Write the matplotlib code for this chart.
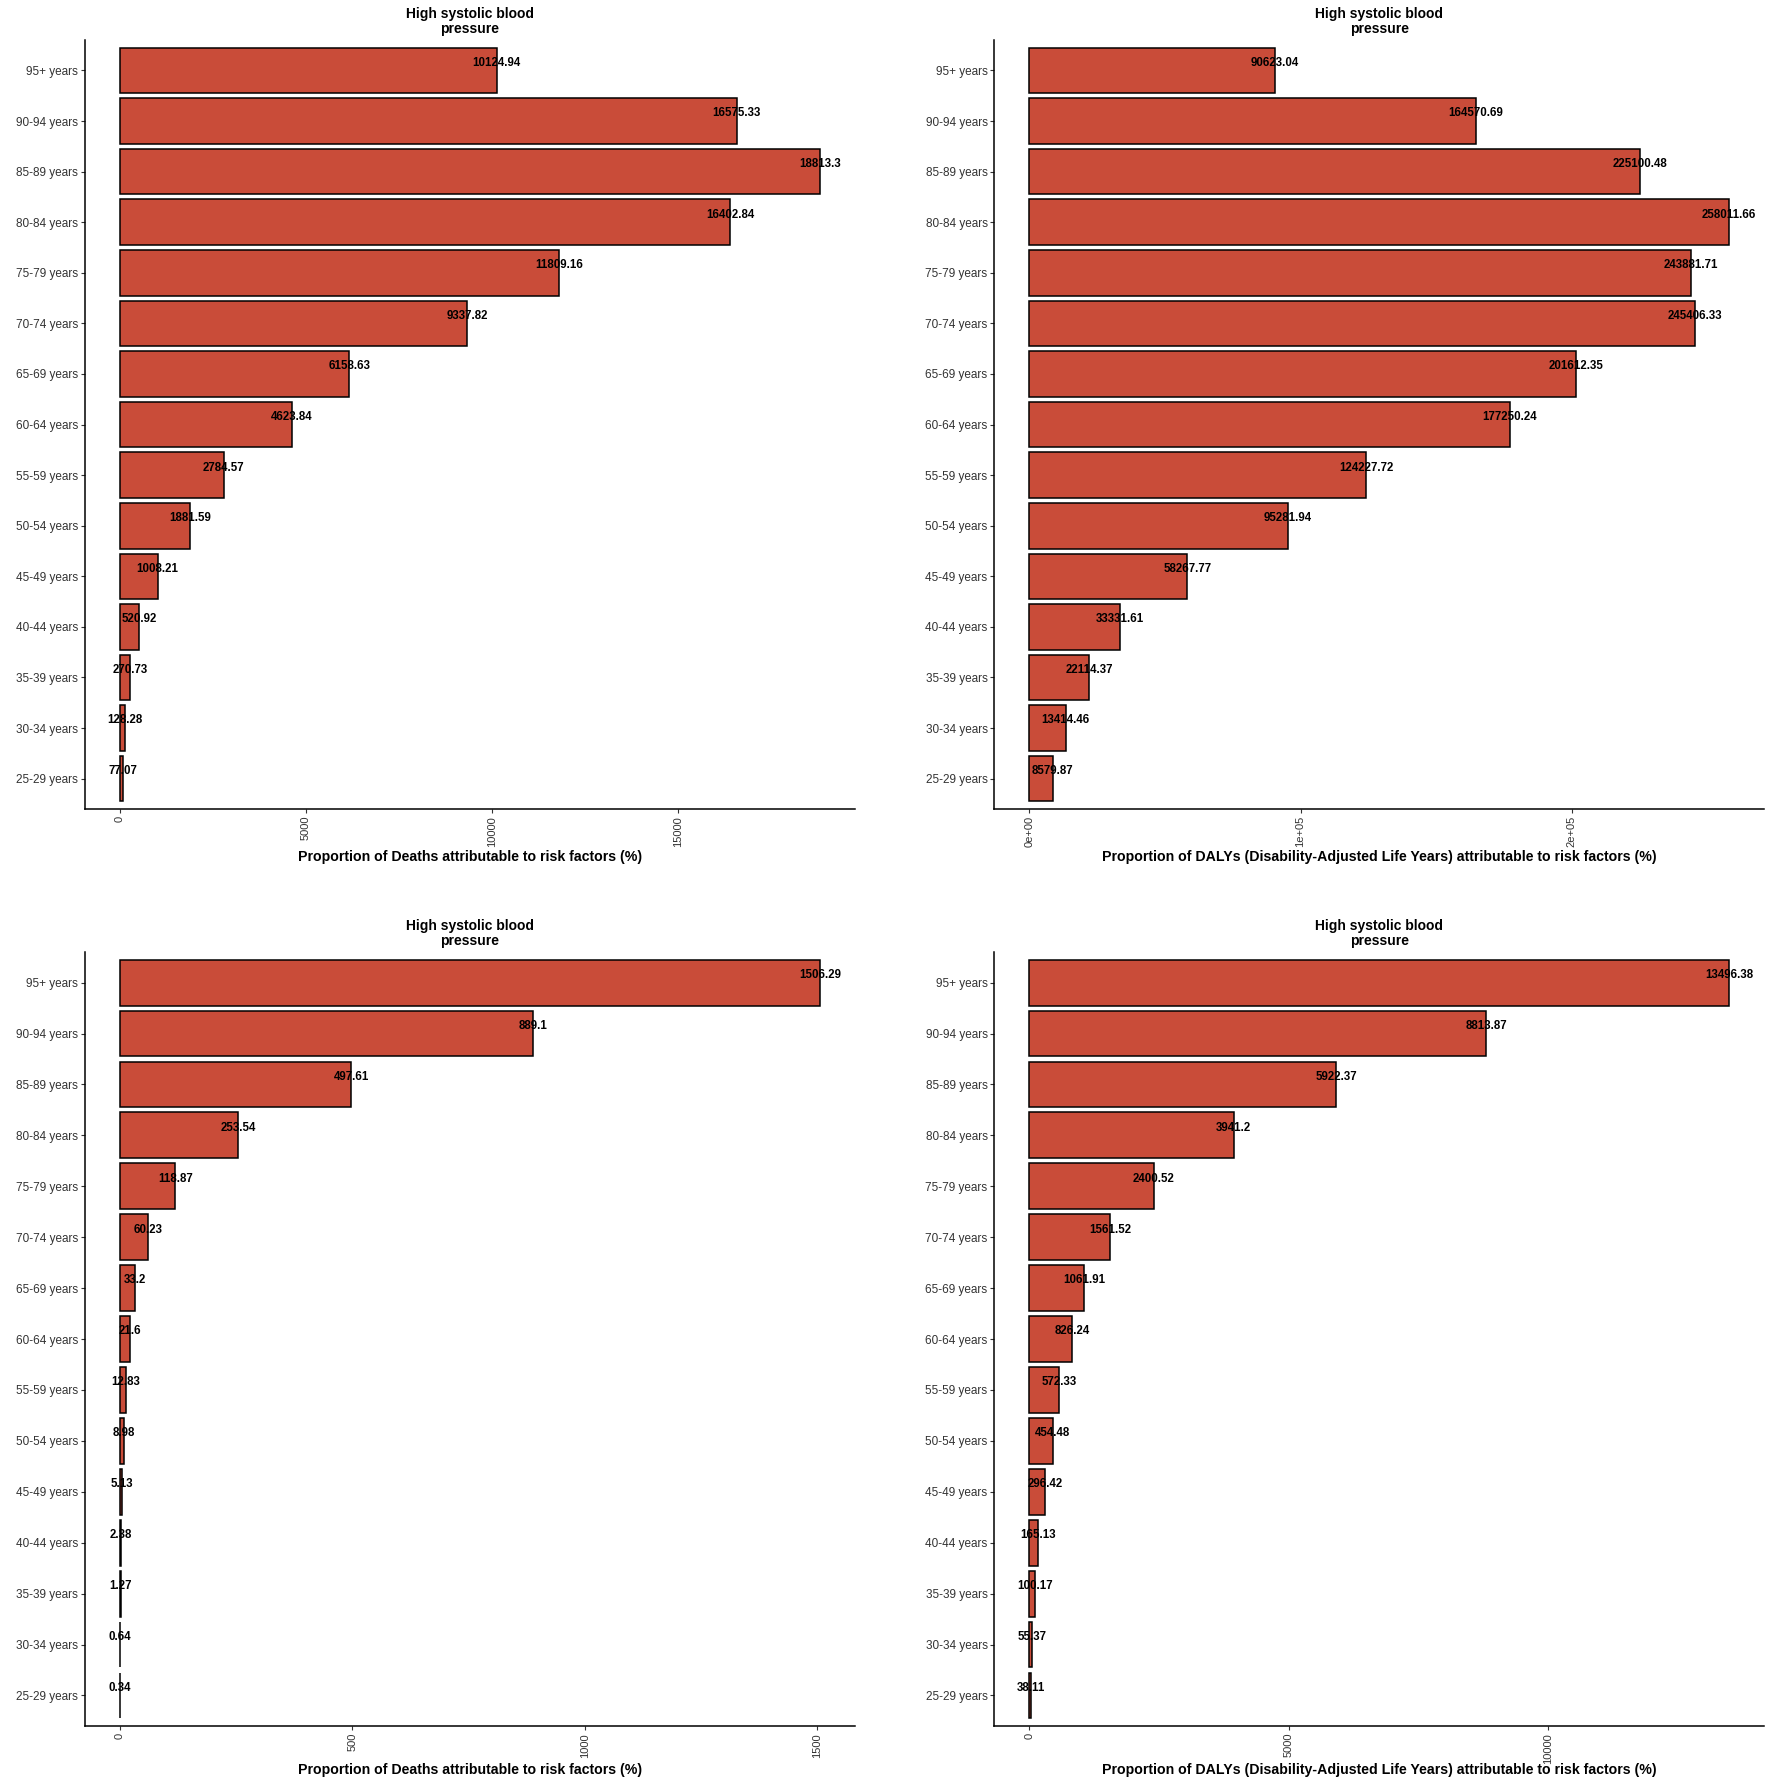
import matplotlib
matplotlib.use("Agg")
import matplotlib.pyplot as plt

plt.rcParams['font.family'] = ['Liberation Sans', 'DejaVu Sans']

# age groups, top to bottom
ages = ["95+ years", "90-94 years", "85-89 years", "80-84 years", "75-79 years",
        "70-74 years", "65-69 years", "60-64 years", "55-59 years", "50-54 years",
        "45-49 years", "40-44 years", "35-39 years", "30-34 years", "25-29 years"]

deaths_num = [10124.94, 16575.33, 18813.3, 16402.84, 11809.16, 9337.82, 6158.63,
              4623.84, 2784.57, 1881.59, 1008.21, 520.92, 270.73, 128.28, 77.07]
dalys_num = [90623.04, 164570.69, 225100.48, 258011.66, 243881.71, 245406.33,
             201612.35, 177250.24, 124227.72, 95281.94, 58267.77, 33331.61,
             22114.37, 13414.46, 8579.87]
deaths_rate = [1506.29, 889.1, 497.61, 253.54, 118.87, 60.23, 33.2, 21.6, 12.83,
               8.98, 5.13, 2.38, 1.27, 0.64, 0.34]
dalys_rate = [13496.38, 8813.87, 5922.37, 3941.2, 2400.52, 1561.52, 1061.91,
              826.24, 572.33, 454.48, 296.42, 165.13, 100.17, 55.37, 38.11]

ticks_deaths_num = [0, 5000, 10000, 15000]
ticks_dalys_num = [0, 100000, 200000]
labels_dalys_num = ["0e+00", "1e+05", "2e+05"]
ticks_deaths_rate = [0, 500, 1000, 1500]
ticks_dalys_rate = [0, 5000, 10000]

title = "High systolic blood\npressure"
xlab_deaths = "Proportion of Deaths attributable to risk factors (%)"
xlab_dalys = "Proportion of DALYs (Disability-Adjusted Life Years) attributable to risk factors (%)"

bar_color = "#C94C39"

fig = plt.figure(figsize=(17.72, 17.82), dpi=100)

def panel(rect, values, ticks, ticklabels, xlabel, label_y):
    ax = fig.add_axes(rect)
    n = len(ages)
    ypos = list(range(n - 1, -1, -1))
    ax.barh(ypos, values, height=0.9, color=bar_color, edgecolor="black", linewidth=1.1)
    for y, v in zip(ypos, values):
        ax.annotate(str(v), (v, y), xytext=(0, 5.5), textcoords="offset points",
                    ha="center", va="center", fontsize=8.3, fontweight="bold", color="black")
    vmax = max(values)
    ax.set_xlim(-0.05 * vmax, 1.05 * vmax)
    ax.set_ylim(-0.6, n - 0.4)
    ax.set_yticks(ypos)
    ax.set_yticklabels(ages, fontsize=8.5, color="#333333")
    ax.set_xticks(ticks)
    ax.set_xticklabels(ticklabels if ticklabels else [str(t) for t in ticks],
                       rotation=90, fontsize=8, color="#333333", va="top", ha="center")
    ax.set_xlabel(xlabel, fontsize=10.2, fontweight="bold")
    ax.xaxis.set_label_coords(0.5, label_y)
    ax.xaxis.label.set_va("center")
    ax.set_title(title, fontsize=10, fontweight="bold", pad=5, linespacing=1.1)
    for s in ["top", "right"]:
        ax.spines[s].set_visible(False)
    for s in ["left", "bottom"]:
        ax.spines[s].set_linewidth(1.1)
    ax.tick_params(axis="both", length=3, width=0.8, color="#333333", pad=2)
    return ax

panel([0.04797, 0.5460, 0.4345, 0.4315], deaths_num, ticks_deaths_num, None, xlab_deaths, -0.0625)
panel([0.5612, 0.5460, 0.4343, 0.4315], dalys_num, ticks_dalys_num, labels_dalys_num, xlab_dalys, -0.0625)
panel([0.04797, 0.03143, 0.4345, 0.4343], deaths_rate, ticks_deaths_rate, None, xlab_deaths, -0.057)
panel([0.5612, 0.03143, 0.4343, 0.4343], dalys_rate, ticks_dalys_rate, None, xlab_dalys, -0.057)

fig.savefig("out.png", dpi=100, facecolor="white")
